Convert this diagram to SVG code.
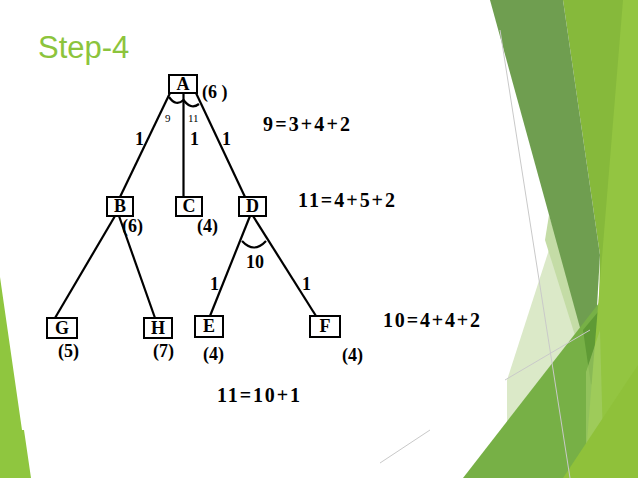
<svg xmlns="http://www.w3.org/2000/svg" width="638" height="478" viewBox="0 0 638 478">
<style>
.box{fill:#fff;stroke:#000;stroke-width:2}
.edge{fill:none;stroke:#000;stroke-width:2.2}
.t{font-family:"Liberation Serif","DejaVu Serif",serif;font-weight:bold;font-size:18px;fill:#000}
.lab{text-anchor:middle}
.f{font-size:20px}
.s{font-size:11px;font-weight:normal}
.gl{stroke:#c9c9c9;stroke-width:1;fill:none}
</style>
<rect width="638" height="478" fill="#fff"/>
<g id="background">
  <polygon points="0,277 22,430 24,430 31,478 0,478" fill="#8fc63f"/>
  <polygon points="556,228 507,380 507,440 595,350 590,300" fill="#dbe9c8"/>
  <polygon points="549,215 545,240 578,345 592,345" fill="#c4dca6"/>
  <polygon points="563,0 638,0 638,478 596,478 600,255" fill="#86b93b"/>
  <polygon points="490,0 563,0 600,255 593,375" fill="#6f9e50"/>
  <polygon points="463,478 606,294 638,294 638,478" fill="#77b046"/>
  <polygon points="583,330 598,312 596,378 591,385" fill="#5f9a35"/>
  <polygon points="623,0 638,0 638,478 584,478" fill="#93c541"/>
  <polygon points="586,372 600,330 604,478 586,478" fill="#a5cf6b" opacity="0.6"/>
  <polygon points="563,478 638,365 638,478" fill="#8fc13a"/>
  <line class="gl" x1="500" y1="30" x2="570" y2="478"/>
  <line class="gl" x1="505" y1="380" x2="590" y2="330"/>
  <line class="gl" x1="380" y1="463" x2="430" y2="430"/>
</g>
<text x="38" y="58" font-family="Liberation Sans,Arial,sans-serif" font-size="31" fill="#8cc43c">Step-4</text>
<g id="connectors">
  <line class="edge" x1="170" y1="93" x2="120" y2="197"/>
  <line class="edge" x1="183.5" y1="93" x2="183.5" y2="197"/>
  <line class="edge" x1="196" y1="93" x2="245" y2="197"/>
  <line class="edge" x1="115" y1="216" x2="55" y2="318"/>
  <line class="edge" x1="119" y1="216" x2="155" y2="318"/>
  <line class="edge" x1="250" y1="216" x2="210" y2="316"/>
  <line class="edge" x1="253" y1="216" x2="316" y2="316"/>
  <path class="edge" d="M169,97 Q176,107 183.5,100 Q191,110 199,104"/>
  <path class="edge" d="M242,241 Q254,254 266,241"/>
  <text class="t s" x="165" y="122">9</text>
  <text class="t s" x="188" y="122">11</text>
  <text class="t" x="135" y="145">1</text>
  <text class="t" x="190" y="145">1</text>
  <text class="t" x="222" y="145">1</text>
  <text class="t" x="246" y="268" font-size="19">10</text>
  <text class="t" x="210" y="290">1</text>
  <text class="t" x="302" y="290">1</text>
</g>
<g id="node-A">
  <rect class="box" x="169" y="75" width="28" height="18"/>
  <text class="t lab" x="183" y="90">A</text>
  <text class="t" x="202" y="98" font-weight="normal" font-size="19">(6 )</text>
</g>
<g id="node-B">
  <rect class="box" x="107" y="197" width="26" height="19"/>
  <text class="t lab" x="120" y="212">B</text>
  <text class="t" x="122" y="232">(6)</text>
</g>
<g id="node-C">
  <rect class="box" x="176" y="197" width="26" height="19"/>
  <text class="t lab" x="189" y="212">C</text>
  <text class="t" x="197" y="232">(4)</text>
</g>
<g id="node-D">
  <rect class="box" x="239" y="197" width="27" height="19"/>
  <text class="t lab" x="252.5" y="212">D</text>
</g>
<g id="node-G">
  <rect class="box" x="47" y="318" width="30" height="20"/>
  <text class="t lab" x="62" y="334">G</text>
  <text class="t" x="58" y="357">(5)</text>
</g>
<g id="node-H">
  <rect class="box" x="144" y="318" width="28" height="20"/>
  <text class="t lab" x="158" y="334">H</text>
  <text class="t" x="153" y="357">(7)</text>
</g>
<g id="node-E">
  <rect class="box" x="195" y="316" width="28" height="21"/>
  <text class="t lab" x="209" y="332">E</text>
  <text class="t" x="203" y="360">(4)</text>
</g>
<g id="node-F">
  <rect class="box" x="310" y="316" width="30" height="21"/>
  <text class="t lab" x="325" y="332">F</text>
  <text class="t" x="342" y="361">(4)</text>
</g>
<g id="formulas">
  <text class="t f" x="263" y="131" textLength="87" lengthAdjust="spacing">9=3+4+2</text>
  <text class="t f" x="298" y="207" textLength="97" lengthAdjust="spacing">11=4+5+2</text>
  <text class="t f" x="383" y="327" textLength="97" lengthAdjust="spacing">10=4+4+2</text>
  <text class="t f" x="217" y="402" textLength="83" lengthAdjust="spacing">11=10+1</text>
</g>
</svg>
